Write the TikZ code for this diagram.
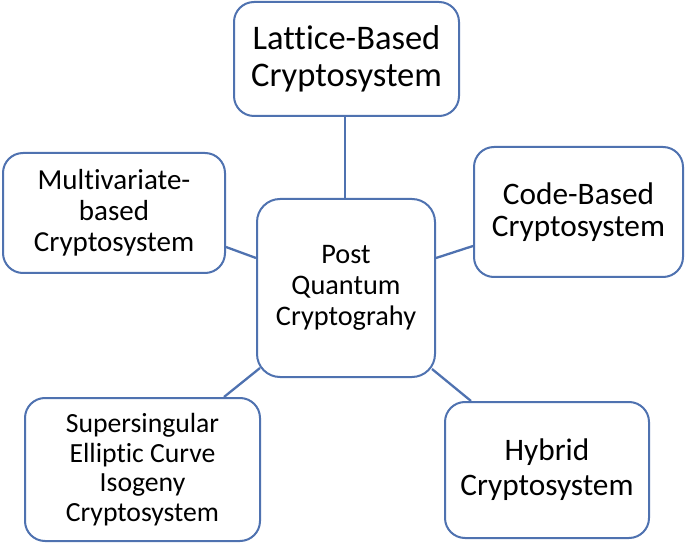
\documentclass[tikz,border=0pt]{standalone}
\usepackage{fontspec}
\setmainfont{Carlito}[Ligatures=NoCommon]
\usetikzlibrary{calc}
\definecolor{edgeblue}{RGB}{79,114,176}
\tikzset{
  box/.style={draw=edgeblue, line width=2pt, rounded corners=20pt, fill=white,
    align=center, inner sep=0pt, text=black},
  link/.style={draw=edgeblue, line width=2.3pt}
}
\begin{document}
\begin{tikzpicture}[x=1pt,y=1pt]
\useasboundingbox (0,0) rectangle (685,544);
\node[box, minimum width=225pt, minimum height=114pt,
  font=\fontsize{34.5}{37}\selectfont] (T) at (346.5,485) {Lattice-Based\\Cryptosystem};
\node[box, minimum width=222pt, minimum height=120pt,
  font=\fontsize{29}{31}\selectfont] (L) at (114,331) {Multivariate-\\based\\Cryptosystem};
\node[box, minimum width=209pt, minimum height=130pt,
  font=\fontsize{31.3}{32}\selectfont] (R) at (578.5,332) {Code-Based\\Cryptosystem};
\node[box, minimum width=178pt, minimum height=178pt, rounded corners=23pt,
  font=\fontsize{28.3}{31}\selectfont] (C) at (346,256) {Post\\Quantum\\Cryptograhy};
\node[box, minimum width=235pt, minimum height=143pt,
  font=\fontsize{27.7}{29.5}\selectfont] (BL) at (142.5,74.5) {Supersingular\\Elliptic Curve\\Isogeny\\Cryptosystem};
\node[box, minimum width=204pt, minimum height=136pt,
  font=\fontsize{31.3}{35}\selectfont] (H) at (547,74) {Hybrid\\Cryptosystem};
\draw[link] ($(T.south)+(-1.5,0)$) -- ($(C.north)+(-1,0)$);
\draw[link] ($(L.east)+(0,-34)$) -- ($(C.west)+(0,30)$);
\draw[link] ($(C.east)+(0,30)$) -- ($(R.west)+(0,-34)$);
\draw[link] ($(C.south west)+(4,10)$) -- ($(BL.north east)+(-37,0)$);
\draw[link] ($(C.south east)+(-4,9)$) -- ($(H.north west)+(27,0)$);
\end{tikzpicture}
\end{document}
